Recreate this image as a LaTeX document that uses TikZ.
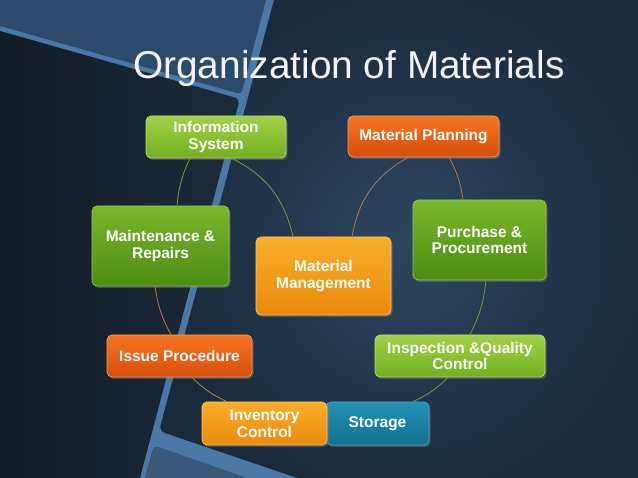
\documentclass[tikz,border=0pt]{standalone}
\usepackage{fontspec}
\setmainfont{Liberation Sans}
\usetikzlibrary{shadows}
\definecolor{stripe}{HTML}{4A79A8}
\definecolor{panelA}{HTML}{2C4A69}
\definecolor{panelBl}{HTML}{121B25}
\definecolor{panelBr}{HTML}{1C2A3A}
\definecolor{panelCi}{HTML}{2D4661}
\definecolor{panelCo}{HTML}{192A3B}
\definecolor{panelD}{HTML}{3A5877}
\definecolor{gLtop}{HTML}{A0D147}
\definecolor{gLbot}{HTML}{73AF20}
\definecolor{gLbrd}{HTML}{B9DE70}
\definecolor{gDtop}{HTML}{79B72D}
\definecolor{gDbot}{HTML}{4D8C13}
\definecolor{gDbrd}{HTML}{93C94A}
\definecolor{rTop}{HTML}{F57522}
\definecolor{rBot}{HTML}{D74E0B}
\definecolor{rBrd}{HTML}{F89C5C}
\definecolor{oTop}{HTML}{F9AE2B}
\definecolor{oBot}{HTML}{EA8A0B}
\definecolor{oBrd}{HTML}{FBC965}
\definecolor{tTop}{HTML}{2492B6}
\definecolor{tBot}{HTML}{13708F}
\definecolor{tBrd}{HTML}{4CAACB}
\definecolor{cOlive}{HTML}{7E9C48}
\definecolor{cBrown}{HTML}{B8794A}
\definecolor{cGreen}{HTML}{6F9C40}
\definecolor{cTan}{HTML}{A88A52}
\tikzset{
  box/.style={rounded corners=5pt, align=center, text=white, inner sep=0pt,
    line width=0.7pt,
    font=\fontsize{15.5}{16.5}\selectfont\bfseries,
    drop shadow={shadow xshift=1.5pt, shadow yshift=-2pt, opacity=0.45}},
  greenL/.style={top color=gLtop, bottom color=gLbot, draw=gLbrd},
  greenD/.style={top color=gDtop, bottom color=gDbot, draw=gDbrd},
  redbox/.style={top color=rTop, bottom color=rBot, draw=rBrd},
  orangebox/.style={top color=oTop, bottom color=oBot, draw=oBrd},
  tealbox/.style={top color=tTop, bottom color=tBot, draw=tBrd},
  conn/.style={line width=0.8pt}
}
\begin{document}
\begin{tikzpicture}[x=1pt,y=-1pt]
\useasboundingbox (0,0) rectangle (638,478);
% background
\begin{scope}
\clip (0,0) rectangle (638,478);
\fill[stripe] (-10,-10) rectangle (650,490);
\fill[panelA, rounded corners=4pt] (-20,20.3) -- (241.2,94.3) -- (271.3,-20) -- (-20,-20) -- cycle;
\shade[left color=panelBl, right color=panelBr, rounded corners=5pt] (-20,25.3) -- (239.9,98.9) -- (134.7,498) -- (-20,498) -- cycle;
\shade[inner color=panelCi, outer color=panelCo, rounded corners=6pt] (279.3,-20) -- (159.0,431.0) -- (380,506.1) -- (660,506) -- (660,-20) -- cycle;
\fill[panelD, rounded corners=6pt] (153.6,445.2) -- (340,510.45) -- (136.6,510) -- cycle;
\end{scope}
% title
\node[anchor=base west, inner sep=0pt, text=white!95!black,
  font=\fontsize{38.8}{42}\selectfont] (title) at (133,79) {Organization of Materials};
% boxes
\node[box, greenL, minimum width=140pt, minimum height=42pt] (info) at (216,137) {Information\\System};
\node[box, redbox, minimum width=151pt, minimum height=41pt] (mp) at (423.5,136.5) {Material Planning};
\node[box, greenD, minimum width=133pt, minimum height=80pt] (purch) at (479.5,240) {Purchase \&\\Procurement};
\node[box, greenD, minimum width=137pt, minimum height=80pt] (maint) at (160.5,246) {Maintenance \&\\Repairs};
\node[box, orangebox, minimum width=135pt, minimum height=78pt] (mm) at (323.5,276) {Material\\Management};
\node[box, redbox, minimum width=145pt, minimum height=42pt] (issue) at (179.5,356) {Issue Procedure};
\node[box, greenL, minimum width=170pt, minimum height=42pt] (insp) at (460,356) {Inspection \&Quality\\Control};
\node[box, tealbox, minimum width=103pt, minimum height=43pt] (stor) at (377.5,423.5) {Storage};
\node[box, orangebox, minimum width=125pt, minimum height=43pt] (inv) at (264.5,423.5) {Inventory\\Control};
% connectors
\draw[conn, cOlive] ([xshift=-26pt]info.south) to[bend right=10] ([xshift=16.5pt]maint.north);
\draw[conn, cOlive] ([xshift=16pt]info.south) to[bend left=25] ([xshift=-30.5pt]mm.north);
\draw[conn, cBrown] ([xshift=-15.5pt]mp.south) to[bend right=25] ([xshift=28.5pt]mm.north);
\draw[conn, cBrown] ([xshift=25.5pt]mp.south) to[bend left=10] ([xshift=-16.5pt]purch.north);
\draw[conn, cGreen] ([xshift=6.5pt]purch.south) to[bend left=10] ([xshift=10pt]insp.north);
\draw[conn, cGreen] ([xshift=-12pt]insp.south) to[bend left=10] ([xshift=35.5pt]stor.north);
\draw[conn, cBrown] ([xshift=-5.5pt]maint.south) to[bend right=10] ([xshift=-8.5pt]issue.north);
\draw[conn, cTan] ([xshift=12.5pt]issue.south) to[bend right=10] ([xshift=-37.5pt]inv.north);
\end{tikzpicture}
\end{document}
